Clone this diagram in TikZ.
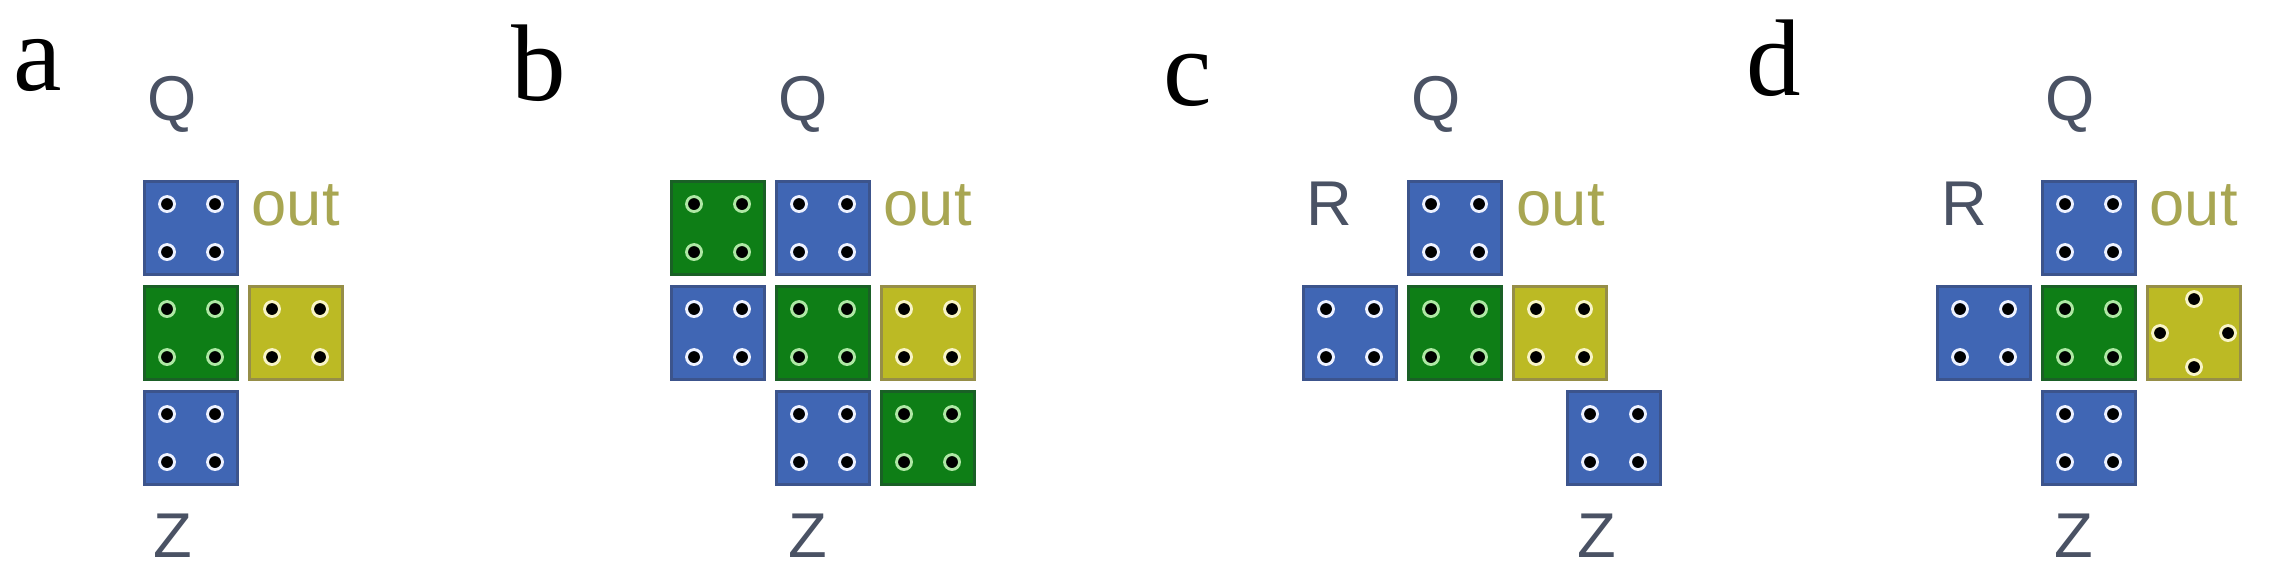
\documentclass[tikz,border=0pt]{standalone}
\usepackage{fontspec}
\newfontfamily\labsans{Liberation Sans}
\newfontfamily\panelserif{Liberation Serif}
\definecolor{bluefill}{RGB}{64,102,180}
\definecolor{blueedge}{RGB}{60,84,140}
\definecolor{greenfill}{RGB}{14,126,22}
\definecolor{greenedge}{RGB}{26,96,38}
\definecolor{yelfill}{RGB}{188,186,36}
\definecolor{yeledge}{RGB}{150,142,72}
\definecolor{labgray}{RGB}{74,82,100}
\definecolor{outcol}{RGB}{168,166,82}
\definecolor{greenring}{RGB}{175,232,165}
\definecolor{bluering}{RGB}{238,242,255}
\definecolor{yelring}{RGB}{248,244,200}
\tikzset{
  sq/.style={line width=0.03cm, minimum size=0.93cm, inner sep=0pt, outer sep=0pt, anchor=north west},
  bluesq/.style={sq, fill=bluefill, draw=blueedge},
  greensq/.style={sq, fill=greenfill, draw=greenedge},
  yelsq/.style={sq, fill=yelfill, draw=yeledge},
  lab/.style={font=\labsans\fontsize{18}{20}\selectfont, text=labgray, anchor=base west, inner sep=0pt},
  outlab/.style={font=\labsans\fontsize{18}{20}\selectfont, text=outcol, anchor=base west, inner sep=0pt},
  panel/.style={font=\panelserif\fontsize{31}{34}\selectfont, text=black, anchor=base west, inner sep=0pt},
}
\newcommand\fourdots[2]{%
  \foreach \dx/\dy in {-24/-24,24/-24,-24/24,24/24}{%
    \fill[black] (#1.center) ++(\dx,\dy) circle[radius=0.06cm];
    \draw[#2, line width=0.028cm] (#1.center) ++(\dx,\dy) circle[radius=0.075cm];
  }}
\newcommand\diamonddots[2]{%
  \foreach \dx/\dy in {0/-34,-34/0,34/0,0/34}{%
    \fill[black] (#1.center) ++(\dx,\dy) circle[radius=0.06cm];
    \draw[#2, line width=0.028cm] (#1.center) ++(\dx,\dy) circle[radius=0.075cm];
  }}
\begin{document}
\begin{tikzpicture}[x=0.01cm,y=-0.01cm]
\fill[white] (0,0) rectangle (2277,581);
\useasboundingbox (0,0) rectangle (2277,581);

% ---------- panel a ----------
\node[panel] (la) at (13,90) {a};
\node[lab] (aQ) at (147,120) {Q};
\node[bluesq] (aT) at (144.5,181.5) {};
\node[greensq] (aM) at (144.5,286.5) {};
\node[yelsq] (aY) at (249.5,286.5) {};
\node[bluesq] (aB) at (144.5,391.5) {};
\node[outlab] (aO) at (251,225) {out};
\node[lab] (aZ) at (153,557) {Z};
\fourdots{aT}{bluering}
\fourdots{aM}{greenring}
\fourdots{aY}{yelring}
\fourdots{aB}{bluering}

% ---------- panel b ----------
\node[panel] (lb) at (511,100) {b};
\node[lab] (bQ) at (778,120) {Q};
\node[greensq] (bTL) at (671.5,181.5) {};
\node[bluesq] (bT) at (776.5,181.5) {};
\node[bluesq] (bML) at (671.5,286.5) {};
\node[greensq] (bM) at (776.5,286.5) {};
\node[yelsq] (bY) at (881.5,286.5) {};
\node[bluesq] (bB) at (776.5,391.5) {};
\node[greensq] (bBR) at (881.5,391.5) {};
\node[outlab] (bO) at (883,225) {out};
\node[lab] (bZ) at (788,557) {Z};
\fourdots{bTL}{greenring}
\fourdots{bT}{bluering}
\fourdots{bML}{bluering}
\fourdots{bM}{greenring}
\fourdots{bY}{yelring}
\fourdots{bB}{bluering}
\fourdots{bBR}{greenring}

% ---------- panel c ----------
\node[panel] (lc) at (1163,105) {c};
\node[lab] (cQ) at (1411,120) {Q};
\node[lab] (cR) at (1306,225) {R};
\node[bluesq] (cT) at (1408.5,181.5) {};
\node[bluesq] (cML) at (1303.5,286.5) {};
\node[greensq] (cM) at (1408.5,286.5) {};
\node[yelsq] (cY) at (1513.5,286.5) {};
\node[bluesq] (cBR) at (1567.5,391.5) {};
\node[outlab] (cO) at (1516,225) {out};
\node[lab] (cZ) at (1577,557) {Z};
\fourdots{cT}{bluering}
\fourdots{cML}{bluering}
\fourdots{cM}{greenring}
\fourdots{cY}{yelring}
\fourdots{cBR}{bluering}

% ---------- panel d ----------
\node[panel] (ld) at (1746,95) {d};
\node[lab] (dQ) at (2045,120) {Q};
\node[lab] (dR) at (1941,225) {R};
\node[bluesq] (dT) at (2042.5,181.5) {};
\node[bluesq] (dML) at (1937.5,286.5) {};
\node[greensq] (dM) at (2042.5,286.5) {};
\node[yelsq] (dY) at (2147.5,286.5) {};
\node[bluesq] (dB) at (2042.5,391.5) {};
\node[outlab] (dO) at (2149,225) {out};
\node[lab] (dZ) at (2054,557) {Z};
\fourdots{dT}{bluering}
\fourdots{dML}{bluering}
\fourdots{dM}{greenring}
\diamonddots{dY}{yelring}
\fourdots{dB}{bluering}
\end{tikzpicture}
\end{document}
